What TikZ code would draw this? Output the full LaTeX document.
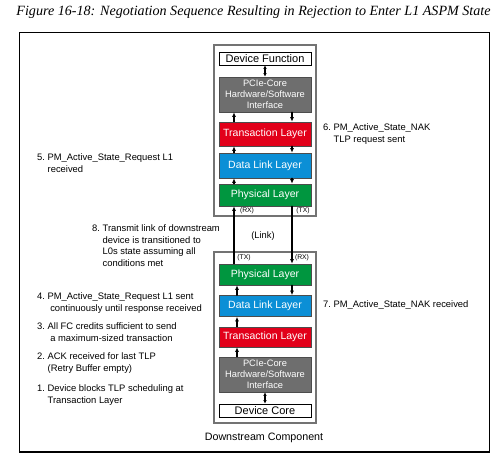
\documentclass[tikz,border=0pt]{standalone}
\usepackage{fontspec}
\setmainfont{Liberation Sans}
\newfontfamily\titlefont{Liberation Serif}
\usetikzlibrary{arrows.meta}
\definecolor{tlred}{HTML}{E2001A}
\definecolor{dllblue}{HTML}{0B8FD6}
\definecolor{phygreen}{HTML}{00963F}
\definecolor{coregray}{HTML}{6E6E6E}

\begin{document}
\begin{tikzpicture}[x=1pt, y=-1pt, every path/.style={line cap=round}]

        \tikzset{layer/.style = {draw=black!70, line width=0.6pt, minimum width=92pt, inner sep=0pt, text=white, font=\fontsize{10.5}{12}\selectfont}}
        \tikzset{endbox/.style = {draw=black, line width=0.8pt, fill=white, minimum width=92pt, minimum height=13pt, inner sep=0pt, font=\fontsize{11}{12}\selectfont}}
        \tikzset{corebox/.style = {layer, fill=coregray, minimum height=35pt, align=center, font=\fontsize{9.3}{11}\selectfont}}
        \tikzset{frame/.style = {draw=black!55, line width=1.1pt}}
        \tikzset{link/.style = {line width=1.3pt, -{Latex[length=4.5pt,width=4pt]}}}
        \tikzset{both/.style = {line width=1.3pt, {Latex[length=3.5pt,width=3.5pt]}-{Latex[length=3.5pt,width=3.5pt]}}}
        \tikzset{note/.style = {anchor=base west, inner sep=0pt, font=\fontsize{9.4}{11.5}\selectfont}}
        \tikzset{port/.style = {inner sep=0pt, font=\fontsize{6.8}{8}\selectfont}}

        \useasboundingbox (0,0) rectangle (499,462);

        \node[font=\titlefont\itshape\fontsize{14.1}{16}\selectfont] (title) at (253.5,12) {Figure 16-18: Negotiation Sequence Resulting in Rejection to Enter L1 ASPM State};
        \draw[line width=1.1pt] (19.5,32.5) rectangle (489.5,452);

        \coordinate (xl) at (234,0);
        \coordinate (xr) at (292,0);
        \coordinate (xm) at (265,0);
        \coordinate (xb) at (237,0);

        % upstream component
        \draw[frame] (214,45) rectangle (316,216);
        \node[endbox] (devfn) at (265,58.5) {Device Function};
        \node[corebox] (topcore) at (265,94.5) {PCIe-Core\\Hardware/Software\\Interface};
        \node[layer, fill=tlred, minimum height=24pt] (toptl) at (265,134) {Transaction Layer};
        \node[layer, fill=dllblue, minimum height=25pt] (topdll) at (265,165.5) {Data Link Layer};
        \node[layer, fill=phygreen, minimum height=22pt] (topphy) at (265,195) {Physical Layer};

        \draw[both] (devfn.south -| xm) -- (topcore.north -| xm);
        \draw[link] (toptl.north -| xl) -- (topcore.south -| xl);
        \draw[link] (topcore.south -| xr) -- (toptl.north -| xr);
        \draw[link] (topdll.north -| xl) -- (toptl.south -| xl);
        \draw[link] (toptl.south -| xr) -- (topdll.north -| xr);
        \draw[link] (topphy.north -| xl) -- (topdll.south -| xl);
        \draw[link] (topdll.south -| xr) -- (topphy.north -| xr);

        % downstream component
        \draw[frame] (214,252) rectangle (316,423);
        \node[layer, fill=phygreen, minimum height=21pt] (botphy) at (265,274.5) {Physical Layer};
        \node[layer, fill=dllblue, minimum height=21pt] (botdll) at (265,306) {Data Link Layer};
        \node[layer, fill=tlred, minimum height=20pt] (bottl) at (265,337) {Transaction Layer};
        \node[corebox] (botcore) at (265,374.5) {PCIe-Core\\Hardware/Software\\Interface};
        \node[endbox] (devcore) at (265,410.5) {Device Core};

        \draw[link] (botdll.north -| xb) -- (botphy.south -| xb);
        \draw[link] (botphy.south -| xr) -- (botdll.north -| xr);
        \draw[link] (bottl.north -| xb) -- (botdll.south -| xb);
        \draw[link] (botcore.north -| xb) -- (bottl.south -| xb);
        \draw[both] (botcore.south -| xm) -- (devcore.north -| xm);

        % link
        \draw[link] (botphy.north -| xl) -- (topphy.south -| xl);
        \draw[link] (topphy.south -| xr) -- (botphy.north -| xr);
        \node[port] (rxtop) at (247,211) {(RX)};
        \node[port] (txtop) at (303,211) {(TX)};
        \node[port] (txbot) at (244,257.5) {(TX)};
        \node[port] (rxbot) at (302,257.5) {(RX)};
        \node[font=\fontsize{9.3}{11}\selectfont] (linklbl) at (263,236) {(Link)};
        \node[font=\fontsize{10.7}{12}\selectfont] (dslbl) at (264,438) {Downstream Component};

        % notes
        \node[note] (n5) at (37,161) {5.\ \begin{tabular}[t]{@{}l@{}}PM\_Active\_State\_Request L1\\received\end{tabular}};
        \node[note] (n8) at (92,232) {8.\ \begin{tabular}[t]{@{}l@{}}Transmit link of downstream\\device is transitioned to\\L0s state assuming all\\conditions met\end{tabular}};
        \node[note] (n4) at (37,300) {4.\ \begin{tabular}[t]{@{}l@{}}PM\_Active\_State\_Request L1 sent\\\ continuously until response received\end{tabular}};
        \node[note] (n3) at (37,330) {3.\ \begin{tabular}[t]{@{}l@{}}All FC credits sufficient to send\\\ a maximum-sized transaction\end{tabular}};
        \node[note] (n2) at (37,360) {2.\ \begin{tabular}[t]{@{}l@{}}ACK received for last TLP\\(Retry Buffer empty)\end{tabular}};
        \node[note] (n1) at (37,392) {1.\ \begin{tabular}[t]{@{}l@{}}Device blocks TLP scheduling at\\Transaction Layer\end{tabular}};
        \node[note] (n6) at (323,131) {6.\ \begin{tabular}[t]{@{}l@{}}PM\_Active\_State\_NAK\\TLP request sent\end{tabular}};
        \node[note] (n7) at (323,308) {7.\ PM\_Active\_State\_NAK received};
\end{tikzpicture}
\end{document}
